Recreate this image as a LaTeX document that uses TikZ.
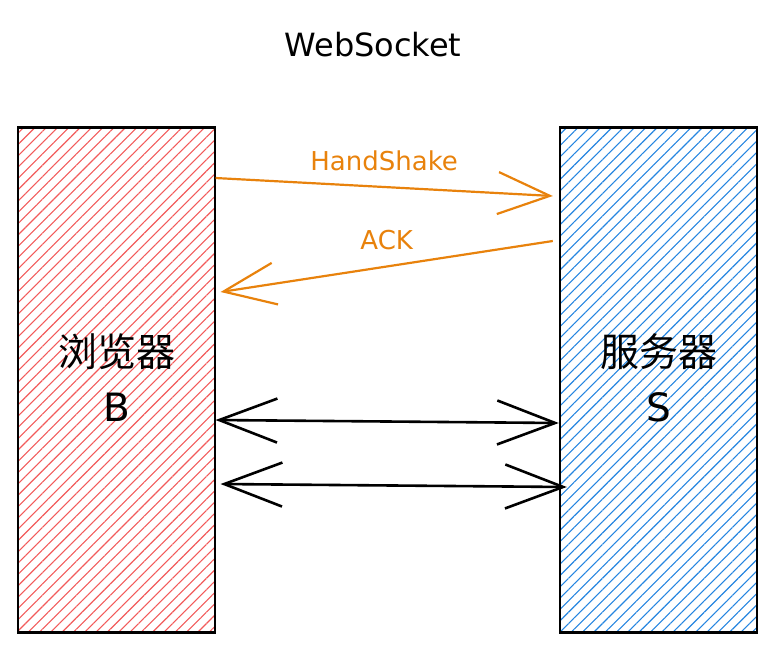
\documentclass[tikz,border=0pt]{standalone}
\usepackage{fontspec}
\setmainfont{DejaVu Sans}
\newfontfamily\cjk{Noto Sans CJK SC}
\usetikzlibrary{arrows.meta,patterns.meta}
\definecolor{xred}{HTML}{F25A5A}
\definecolor{xblue}{HTML}{2585E0}
\definecolor{xorange}{HTML}{E8820C}
\begin{document}
\begin{tikzpicture}[x=1pt, y=-1pt,
                    peer/.style={draw=black, line width=2.4pt, minimum width=197pt, minimum height=505pt, inner sep=0pt},
                    msg/.style={draw=xorange, line width=2.2pt, -{Straight Barb[length=52pt,width=42pt,line width=2.2pt]}},
                    duplex/.style={draw=black, line width=2.6pt, {Straight Barb[length=58pt,width=44pt,line width=2.6pt]}-{Straight Barb[length=58pt,width=44pt,line width=2.6pt]}},
                    msglabel/.style={text=xorange, font=\fontsize{26}{30}\selectfont},
                    peerlabel/.style={align=center, font=\fontsize{39}{55}\selectfont}]
\useasboundingbox (0,0) rectangle (776,649);

\node[font=\fontsize{32}{36}\selectfont] (title) at (373,45) {WebSocket};

\node[peer, pattern={Lines[angle=45,distance=8pt,line width=1.1pt]}, pattern color=xred] (browser) at (116.5,380) {};
\node[peer, pattern={Lines[angle=45,distance=8pt,line width=1.1pt]}, pattern color=xblue] (server) at (658.5,380) {};
\node[peerlabel] (blabel) at (116.5,378) {{\cjk 浏览器}\\B};
\node[peerlabel] (slabel) at (658.5,378) {{\cjk 服务器}\\S};

% handshake and reply
\draw[msg] ([yshift=202pt]browser.east) -- node[msglabel, above=12pt] {HandShake} ([xshift=-6pt,yshift=184pt]server.west);
\draw[msg] ([xshift=-6pt,yshift=139pt]server.west) -- node[msglabel, above=12pt] {ACK} ([xshift=5pt,yshift=88pt]browser.east);

% full duplex
\draw[duplex] ([yshift=-40pt]browser.east) -- ([yshift=-43pt]server.west);
\draw[duplex] ([xshift=5pt,yshift=-104pt]browser.east) -- ([xshift=8pt,yshift=-107pt]server.west);
\end{tikzpicture}
\end{document}
